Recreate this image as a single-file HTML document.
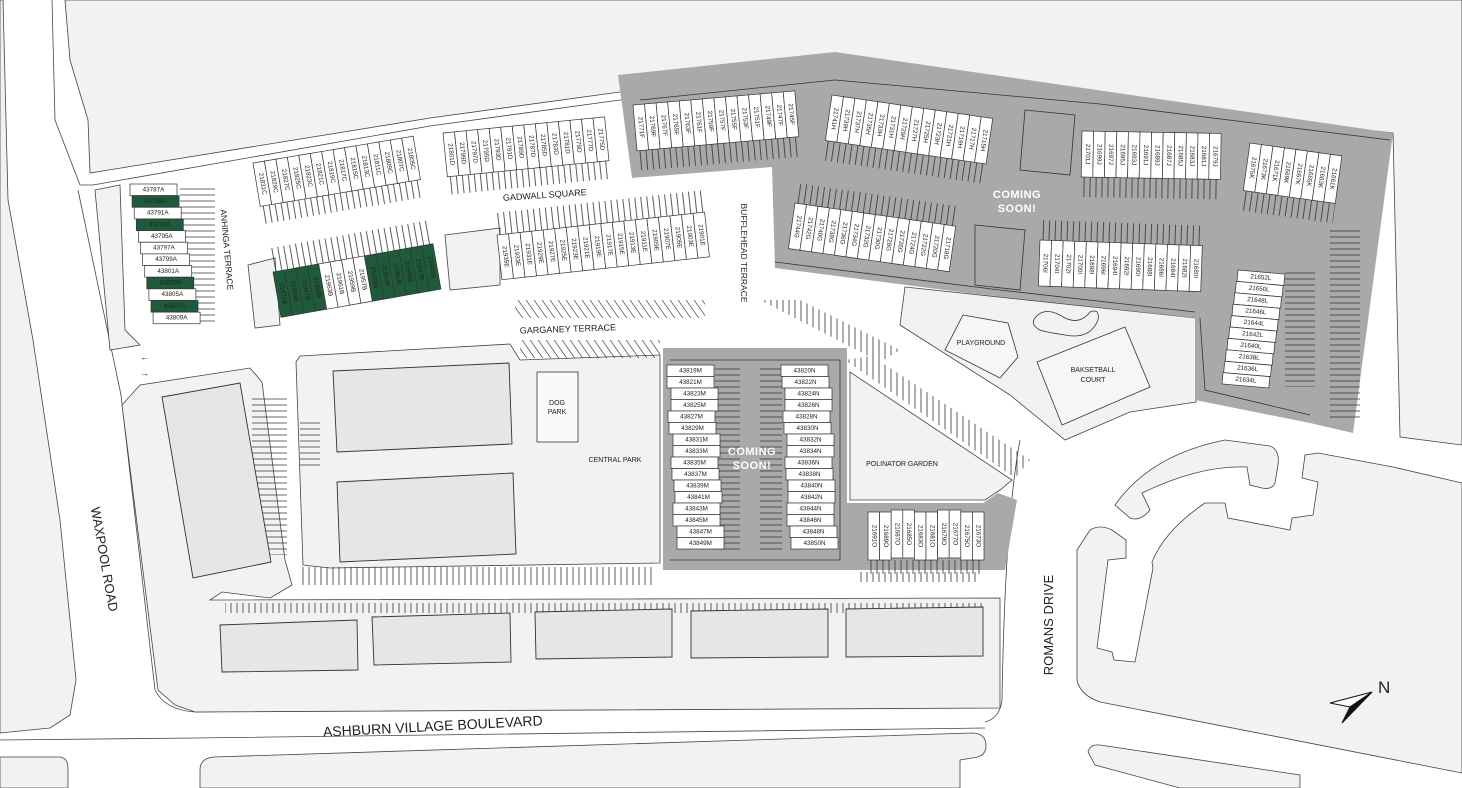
<!DOCTYPE html>
<html><head><meta charset="utf-8"><style>
html,body{margin:0;padding:0;background:#fff}
svg{display:block}
.u rect{fill:#fff;stroke:#333;stroke-width:.7}
.u rect.g{fill:#1f5b3b}
.u rect.st{fill:url(#vs);stroke:none}
.u text{font:6.3px "Liberation Sans",sans-serif;fill:#222;text-anchor:middle;dominant-baseline:central}
.isl{fill:#f2f2f2;stroke:#444;stroke-width:.8}
.bld{fill:#e6e6e6;stroke:#333;stroke-width:.9}
.ln{fill:none;stroke:#444;stroke-width:.8}
.lbl{font-family:"Liberation Sans",sans-serif;fill:#222}
.cs{font:bold 11px "Liberation Sans",sans-serif;fill:#fff;text-anchor:middle;letter-spacing:.5px}
</style></head><body>
<svg width="1462" height="788" viewBox="0 0 1462 788" xmlns="http://www.w3.org/2000/svg">
<defs>
<pattern id="vs" width="6" height="40" patternUnits="userSpaceOnUse"><line x1="3" y1="0" x2="3" y2="40" stroke="#333" stroke-width=".8"/></pattern>
<pattern id="hs" width="40" height="6" patternUnits="userSpaceOnUse"><line x1="0" y1="3" x2="40" y2="3" stroke="#333" stroke-width=".8"/></pattern>
<pattern id="ds" width="8" height="20" patternUnits="userSpaceOnUse" patternTransform="skewX(35)"><line x1="4" y1="0" x2="4" y2="20" stroke="#333" stroke-width=".8"/></pattern>
</defs>
<rect width="1462" height="788" fill="#fff"/>
<polygon points="65,0 1462,0 1462,445 1400,437 1393,133 1100,100 835,78 620,92 430,118 90,173 88,120 70,60" fill="#f2f2f2" stroke="#444" stroke-width=".8"/>
<polygon points="0,0 3,0 8,200 33,340 60,520 76,680 70,715 50,728 0,733" fill="#f2f2f2" stroke="#444" stroke-width=".8"/>
<path d="M0,757 L60,757 Q68,758 68,768 L68,788 L0,788 Z" fill="#f2f2f2" stroke="#444" stroke-width=".8"/>
<path d="M200,788 L200,770 Q200,758 214,757 L972,733 Q986,733 986,746 Q986,757 972,758 L960,760 L960,788 Z" fill="#f2f2f2" stroke="#444" stroke-width=".8"/>
<path d="M1077,550 L1090,530 Q1100,524 1112,530 L1126,540 L1126,558 L1108,560 L1097,648 L1112,652 L1114,660 L1135,662 L1153,568 L1152,562 Q1165,530 1205,503 L1225,503 L1228,518 L1290,530 L1292,518 L1313,515 L1318,482 L1302,478 L1305,455 L1318,453 L1393,467 L1462,483 L1462,773 L1100,702 Q1080,695 1077,680 Z" fill="#f2f2f2" stroke="#444" stroke-width=".8"/>
<path d="M1115,505 Q1150,455 1225,440 L1270,446 Q1280,450 1278,465 L1275,483 Q1272,490 1262,488 L1250,485 L1247,467 Q1200,465 1142,493 L1150,510 Q1140,522 1130,518 Z" fill="#f2f2f2" stroke="#444" stroke-width=".8"/>
<path d="M1088,752 Q1090,744 1100,745 L1300,775 L1300,788 L1180,788 L1095,765 Z" fill="#f2f2f2" stroke="#444" stroke-width=".8"/>
<path class="ln" d="M52,0 L55,120 L80,185 L93,185 L430,126 L620,100 L835,84 L1100,106 L1390,143"/>
<path class="ln" d="M78,190 L121,395 L155,690 Q165,710 195,712 L1000,700"/>
<path class="ln" d="M0,740 L195,738 L985,728"/>
<path class="ln" d="M1020,440 Q1005,520 1002,700 Q1000,718 985,722"/>
<polygon class="isl" points="122,405 140,385 250,368 262,382 285,560 292,585 270,598 222,592 210,600 1000,598 1000,708 195,712 175,705 158,690"/>
<polygon class="isl" points="296,362 300,356 510,344 520,360 660,355 660,563 330,568 303,565"/>
<polygon class="isl" points="850,372 1012,480 1000,490 985,500 850,500"/>
<polygon class="isl" points="905,287 1196,318 1196,402 1130,412 1065,440 1010,395 900,325"/>
<polygon class="isl" points="95,190 120,185 125,330 140,345 110,350"/>
<polygon class="isl" points="248,265 275,258 280,325 255,328"/>
<polygon class="isl" points="445,235 500,228 500,285 450,290"/>
<polygon points="618,75 835,52 1393,133 1353,433 1310,423 1195,400 1195,318 968,293 775,268 772,167 632,178" fill="#a9a9a9"/>
<polygon points="663,348 847,348 847,503 983,503 998,493 1017,500 1005,570 847,570 663,570" fill="#a9a9a9"/>
<g fill="none" stroke="#333" stroke-width=".8">
<path d="M640,100 L835,80 L1100,104 L1390,140"/>
<path d="M775,262 L1000,290 L1195,312"/>
<path d="M1200,318 L1205,390 L1310,415"/>
<path d="M975,225 L1025,230 L1020,290 L975,285 Z"/>
<path d="M1025,110 L1075,115 L1070,175 L1020,170 Z"/>
<path d="M670,360 L840,360 L840,560 L670,560"/>
</g>
<rect x="300" y="567" width="355" height="18" fill="url(#vs)"/>
<rect x="225" y="603" width="760" height="10" fill="url(#vs)"/>
<rect x="860" y="572" width="120" height="10" fill="url(#vs)"/>
<rect x="515" y="300" width="190" height="18" fill="url(#ds)"/>
<rect x="520" y="340" width="140" height="18" fill="url(#ds)"/>
<rect x="180" y="186" width="35" height="140" fill="url(#hs)"/>
<rect x="252" y="395" width="35" height="160" fill="url(#hs)"/>
<rect x="300" y="420" width="20" height="50" fill="url(#hs)"/>
<rect x="715" y="365" width="25" height="185" fill="url(#hs)"/>
<rect x="760" y="365" width="22" height="185" fill="url(#hs)"/>
<rect x="1285" y="272" width="30" height="115" fill="url(#hs)"/>
<rect x="1330" y="230" width="30" height="190" fill="url(#hs)"/>
<polygon points="845,360 872,356 1030,460 1015,478" fill="url(#vs)"/>
<polygon points="760,300 800,300 900,350 880,362" fill="url(#vs)"/>
<polygon class="bld" points="162,397 240,383 271,562 193,578"/>
<polygon class="bld" points="333,371 509,363 512,444 337,452"/>
<polygon class="bld" points="337,482 513,473 516,554 340,562"/>
<rect x="537" y="372" width="41" height="70" fill="#fafafa" stroke="#333" stroke-width=".8"/>
<polygon class="bld" points="220,625 357,620 358,670 222,672"/>
<polygon class="bld" points="372,617 510,613 511,662 374,665"/>
<polygon class="bld" points="535,612 672,609 672,657 536,659"/>
<polygon class="bld" points="691,611 828,609 828,657 691,658"/>
<polygon class="bld" points="846,609 983,607 983,656 846,657"/>
<polygon points="963,315 1008,323 1018,357 1000,378 945,350" fill="#f6f6f6" stroke="#333" stroke-width=".8"/>
<polygon points="1037,362 1125,327 1150,387 1062,425" fill="#f6f6f6" stroke="#333" stroke-width=".8"/>
<path d="M1035,318 Q1045,305 1065,318 Q1080,325 1090,312 Q1100,308 1098,320 Q1090,340 1065,335 Q1045,332 1040,330 Q1030,325 1035,318 Z" fill="none" stroke="#333" stroke-width=".8"/>

<g class="u" transform="translate(130,184)">
<rect x="0" y="0" width="47" height="11.6"/><text x="23.5" y="5.8">43787A</text>
<rect class="g" x="2.1" y="11.65" width="47" height="11.6"/><text x="25.6" y="17.45">43789A</text>
<rect x="4.2" y="23.3" width="47" height="11.6"/><text x="27.7" y="29.1">43791A</text>
<rect class="g" x="6.3" y="34.95" width="47" height="11.6"/><text x="29.8" y="40.75">43793A</text>
<rect x="8.4" y="46.6" width="47" height="11.6"/><text x="31.9" y="52.4">43795A</text>
<rect x="10.5" y="58.25" width="47" height="11.6"/><text x="34" y="64.05">43797A</text>
<rect x="12.6" y="69.9" width="47" height="11.6"/><text x="36.1" y="75.7">43799A</text>
<rect x="14.7" y="81.55" width="47" height="11.6"/><text x="38.2" y="87.35">43801A</text>
<rect class="g" x="16.8" y="93.2" width="47" height="11.6"/><text x="40.3" y="99">43803A</text>
<rect x="18.9" y="104.85" width="47" height="11.6"/><text x="42.4" y="110.65">43805A</text>
<rect class="g" x="21" y="116.5" width="47" height="11.6"/><text x="44.5" y="122.3">43807A</text>
<rect x="23.1" y="128.15" width="47" height="11.6"/><text x="46.6" y="133.95">43809A</text>
</g>

<g class="u" transform="translate(253,163) rotate(-9.5)">
<rect class="st" x="0" y="44" width="162" height="18"/>
<rect x="0" width="11.6" height="44"/><text transform="translate(5.8,22) rotate(90)">21831C</text>
<rect x="11.6" width="11.6" height="44"/><text transform="translate(17.4,22) rotate(90)">21829C</text>
<rect x="23.2" width="11.6" height="44"/><text transform="translate(29,22) rotate(90)">21827C</text>
<rect x="34.8" width="11.6" height="44"/><text transform="translate(40.6,22) rotate(90)">21825C</text>
<rect x="46.4" width="11.6" height="44"/><text transform="translate(52.2,22) rotate(90)">21823C</text>
<rect x="58" width="11.6" height="44"/><text transform="translate(63.8,22) rotate(90)">21821C</text>
<rect x="69.6" width="11.6" height="44"/><text transform="translate(75.4,22) rotate(90)">21819C</text>
<rect x="81.2" width="11.6" height="44"/><text transform="translate(87,22) rotate(90)">21817C</text>
<rect x="92.8" width="11.6" height="44"/><text transform="translate(98.6,22) rotate(90)">21815C</text>
<rect x="104.4" width="11.6" height="44"/><text transform="translate(110.2,22) rotate(90)">21813C</text>
<rect x="116" width="11.6" height="44"/><text transform="translate(121.8,22) rotate(90)">21811C</text>
<rect x="127.6" width="11.6" height="44"/><text transform="translate(133.4,22) rotate(90)">21809C</text>
<rect x="139.2" width="11.6" height="44"/><text transform="translate(145,22) rotate(90)">21807C</text>
<rect x="150.8" width="11.6" height="44"/><text transform="translate(156.6,22) rotate(90)">21805C</text>
</g>

<g class="u" transform="translate(443,133) rotate(-5.7)">
<rect class="st" x="0" y="44" width="162" height="18"/>
<rect x="0" width="11.6" height="44"/><text transform="translate(5.8,22) rotate(90)">21801D</text>
<rect x="11.6" width="11.6" height="44"/><text transform="translate(17.4,22) rotate(90)">21799D</text>
<rect x="23.2" width="11.6" height="44"/><text transform="translate(29,22) rotate(90)">21797D</text>
<rect x="34.8" width="11.6" height="44"/><text transform="translate(40.6,22) rotate(90)">21795D</text>
<rect x="46.4" width="11.6" height="44"/><text transform="translate(52.2,22) rotate(90)">21793D</text>
<rect x="58" width="11.6" height="44"/><text transform="translate(63.8,22) rotate(90)">21791D</text>
<rect x="69.6" width="11.6" height="44"/><text transform="translate(75.4,22) rotate(90)">21789D</text>
<rect x="81.2" width="11.6" height="44"/><text transform="translate(87,22) rotate(90)">21787D</text>
<rect x="92.8" width="11.6" height="44"/><text transform="translate(98.6,22) rotate(90)">21785D</text>
<rect x="104.4" width="11.6" height="44"/><text transform="translate(110.2,22) rotate(90)">21783D</text>
<rect x="116" width="11.6" height="44"/><text transform="translate(121.8,22) rotate(90)">21781D</text>
<rect x="127.6" width="11.6" height="44"/><text transform="translate(133.4,22) rotate(90)">21779D</text>
<rect x="139.2" width="11.6" height="44"/><text transform="translate(145,22) rotate(90)">21777D</text>
<rect x="150.8" width="11.6" height="44"/><text transform="translate(156.6,22) rotate(90)">21775D</text>
</g>

<g class="u" transform="translate(633,105) rotate(-5)">
<rect class="st" x="0" y="46" width="162" height="20"/>
<rect x="0" width="11.6" height="46"/><text transform="translate(5.8,23) rotate(90)">21771F</text>
<rect x="11.6" width="11.6" height="46"/><text transform="translate(17.4,23) rotate(90)">21769F</text>
<rect x="23.2" width="11.6" height="46"/><text transform="translate(29,23) rotate(90)">21767F</text>
<rect x="34.8" width="11.6" height="46"/><text transform="translate(40.6,23) rotate(90)">21765F</text>
<rect x="46.4" width="11.6" height="46"/><text transform="translate(52.2,23) rotate(90)">21763F</text>
<rect x="58" width="11.6" height="46"/><text transform="translate(63.8,23) rotate(90)">21761F</text>
<rect x="69.6" width="11.6" height="46"/><text transform="translate(75.4,23) rotate(90)">21759F</text>
<rect x="81.2" width="11.6" height="46"/><text transform="translate(87,23) rotate(90)">21757F</text>
<rect x="92.8" width="11.6" height="46"/><text transform="translate(98.6,23) rotate(90)">21755F</text>
<rect x="104.4" width="11.6" height="46"/><text transform="translate(110.2,23) rotate(90)">21753F</text>
<rect x="116" width="11.6" height="46"/><text transform="translate(121.8,23) rotate(90)">21751F</text>
<rect x="127.6" width="11.6" height="46"/><text transform="translate(133.4,23) rotate(90)">21749F</text>
<rect x="139.2" width="11.6" height="46"/><text transform="translate(145,23) rotate(90)">21747F</text>
<rect x="150.8" width="11.6" height="46"/><text transform="translate(156.6,23) rotate(90)">21745F</text>
</g>

<g class="u" transform="translate(832,95) rotate(8.3)">
<rect class="st" x="0" y="46" width="162" height="20"/>
<rect x="0" width="11.6" height="46"/><text transform="translate(5.8,23) rotate(90)">21741H</text>
<rect x="11.6" width="11.6" height="46"/><text transform="translate(17.4,23) rotate(90)">21739H</text>
<rect x="23.2" width="11.6" height="46"/><text transform="translate(29,23) rotate(90)">21737H</text>
<rect x="34.8" width="11.6" height="46"/><text transform="translate(40.6,23) rotate(90)">21735H</text>
<rect x="46.4" width="11.6" height="46"/><text transform="translate(52.2,23) rotate(90)">21733H</text>
<rect x="58" width="11.6" height="46"/><text transform="translate(63.8,23) rotate(90)">21731H</text>
<rect x="69.6" width="11.6" height="46"/><text transform="translate(75.4,23) rotate(90)">21729H</text>
<rect x="81.2" width="11.6" height="46"/><text transform="translate(87,23) rotate(90)">21727H</text>
<rect x="92.8" width="11.6" height="46"/><text transform="translate(98.6,23) rotate(90)">21725H</text>
<rect x="104.4" width="11.6" height="46"/><text transform="translate(110.2,23) rotate(90)">21723H</text>
<rect x="116" width="11.6" height="46"/><text transform="translate(121.8,23) rotate(90)">21721H</text>
<rect x="127.6" width="11.6" height="46"/><text transform="translate(133.4,23) rotate(90)">21719H</text>
<rect x="139.2" width="11.6" height="46"/><text transform="translate(145,23) rotate(90)">21717H</text>
<rect x="150.8" width="11.6" height="46"/><text transform="translate(156.6,23) rotate(90)">21715H</text>
</g>

<g class="u" transform="translate(1082,131) rotate(1)">
<rect class="st" x="0" y="46" width="139" height="20"/>
<rect x="0" width="11.6" height="46"/><text transform="translate(5.8,23) rotate(90)">21701J</text>
<rect x="11.6" width="11.6" height="46"/><text transform="translate(17.4,23) rotate(90)">21699J</text>
<rect x="23.2" width="11.6" height="46"/><text transform="translate(29,23) rotate(90)">21697J</text>
<rect x="34.8" width="11.6" height="46"/><text transform="translate(40.6,23) rotate(90)">21695J</text>
<rect x="46.4" width="11.6" height="46"/><text transform="translate(52.2,23) rotate(90)">21693J</text>
<rect x="58" width="11.6" height="46"/><text transform="translate(63.8,23) rotate(90)">21691J</text>
<rect x="69.6" width="11.6" height="46"/><text transform="translate(75.4,23) rotate(90)">21689J</text>
<rect x="81.2" width="11.6" height="46"/><text transform="translate(87,23) rotate(90)">21687J</text>
<rect x="92.8" width="11.6" height="46"/><text transform="translate(98.6,23) rotate(90)">21685J</text>
<rect x="104.4" width="11.6" height="46"/><text transform="translate(110.2,23) rotate(90)">21683J</text>
<rect x="116" width="11.6" height="46"/><text transform="translate(121.8,23) rotate(90)">21681J</text>
<rect x="127.6" width="11.6" height="46"/><text transform="translate(133.4,23) rotate(90)">21679J</text>
</g>

<g class="u" transform="translate(1250,143) rotate(8)">
<rect class="st" x="0" y="48" width="93" height="20"/>
<rect x="0" width="11.6" height="48"/><text transform="translate(5.8,24) rotate(90)">21675K</text>
<rect x="11.6" width="11.6" height="48"/><text transform="translate(17.4,24) rotate(90)">21673K</text>
<rect x="23.2" width="11.6" height="48"/><text transform="translate(29,24) rotate(90)">21671K</text>
<rect x="34.8" width="11.6" height="48"/><text transform="translate(40.6,24) rotate(90)">21669K</text>
<rect x="46.4" width="11.6" height="48"/><text transform="translate(52.2,24) rotate(90)">21667K</text>
<rect x="58" width="11.6" height="48"/><text transform="translate(63.8,24) rotate(90)">21665K</text>
<rect x="69.6" width="11.6" height="48"/><text transform="translate(75.4,24) rotate(90)">21663K</text>
<rect x="81.2" width="11.6" height="48"/><text transform="translate(87,24) rotate(90)">21661K</text>
</g>

<g class="u" transform="translate(795,203) rotate(8.2)">
<rect class="st" x="0" y="-20" width="162" height="20"/>
<rect x="0" width="11.6" height="46"/><text transform="translate(5.8,23) rotate(90)">21744G</text>
<rect x="11.6" width="11.6" height="46"/><text transform="translate(17.4,23) rotate(90)">21742G</text>
<rect x="23.2" width="11.6" height="46"/><text transform="translate(29,23) rotate(90)">21740G</text>
<rect x="34.8" width="11.6" height="46"/><text transform="translate(40.6,23) rotate(90)">21738G</text>
<rect x="46.4" width="11.6" height="46"/><text transform="translate(52.2,23) rotate(90)">21736G</text>
<rect x="58" width="11.6" height="46"/><text transform="translate(63.8,23) rotate(90)">21734G</text>
<rect x="69.6" width="11.6" height="46"/><text transform="translate(75.4,23) rotate(90)">21732G</text>
<rect x="81.2" width="11.6" height="46"/><text transform="translate(87,23) rotate(90)">21730G</text>
<rect x="92.8" width="11.6" height="46"/><text transform="translate(98.6,23) rotate(90)">21728G</text>
<rect x="104.4" width="11.6" height="46"/><text transform="translate(110.2,23) rotate(90)">21726G</text>
<rect x="116" width="11.6" height="46"/><text transform="translate(121.8,23) rotate(90)">21724G</text>
<rect x="127.6" width="11.6" height="46"/><text transform="translate(133.4,23) rotate(90)">21722G</text>
<rect x="139.2" width="11.6" height="46"/><text transform="translate(145,23) rotate(90)">21720G</text>
<rect x="150.8" width="11.6" height="46"/><text transform="translate(156.6,23) rotate(90)">21718G</text>
</g>

<g class="u" transform="translate(1040,240) rotate(2)">
<rect class="st" x="0" y="-20" width="162" height="20"/>
<rect x="0" width="11.6" height="46"/><text transform="translate(5.8,23) rotate(90)">21706I</text>
<rect x="11.6" width="11.6" height="46"/><text transform="translate(17.4,23) rotate(90)">21704I</text>
<rect x="23.2" width="11.6" height="46"/><text transform="translate(29,23) rotate(90)">21702I</text>
<rect x="34.8" width="11.6" height="46"/><text transform="translate(40.6,23) rotate(90)">21700I</text>
<rect x="46.4" width="11.6" height="46"/><text transform="translate(52.2,23) rotate(90)">21698I</text>
<rect x="58" width="11.6" height="46"/><text transform="translate(63.8,23) rotate(90)">21696I</text>
<rect x="69.6" width="11.6" height="46"/><text transform="translate(75.4,23) rotate(90)">21694I</text>
<rect x="81.2" width="11.6" height="46"/><text transform="translate(87,23) rotate(90)">21692I</text>
<rect x="92.8" width="11.6" height="46"/><text transform="translate(98.6,23) rotate(90)">21690I</text>
<rect x="104.4" width="11.6" height="46"/><text transform="translate(110.2,23) rotate(90)">21688I</text>
<rect x="116" width="11.6" height="46"/><text transform="translate(121.8,23) rotate(90)">21686I</text>
<rect x="127.6" width="11.6" height="46"/><text transform="translate(133.4,23) rotate(90)">21684I</text>
<rect x="139.2" width="11.6" height="46"/><text transform="translate(145,23) rotate(90)">21682I</text>
<rect x="150.8" width="11.6" height="46"/><text transform="translate(156.6,23) rotate(90)">21680I</text>
</g>

<g class="u" transform="translate(497,235) rotate(-6.3)">
<rect class="st" x="0" y="-22" width="209" height="22"/>
<rect x="0" width="11.6" height="45"/><text transform="translate(5.8,22.5) rotate(90)">21935E</text>
<rect x="11.6" width="11.6" height="45"/><text transform="translate(17.4,22.5) rotate(90)">21933E</text>
<rect x="23.2" width="11.6" height="45"/><text transform="translate(29,22.5) rotate(90)">21931E</text>
<rect x="34.8" width="11.6" height="45"/><text transform="translate(40.6,22.5) rotate(90)">21929E</text>
<rect x="46.4" width="11.6" height="45"/><text transform="translate(52.2,22.5) rotate(90)">21927E</text>
<rect x="58" width="11.6" height="45"/><text transform="translate(63.8,22.5) rotate(90)">21925E</text>
<rect x="69.6" width="11.6" height="45"/><text transform="translate(75.4,22.5) rotate(90)">21923E</text>
<rect x="81.2" width="11.6" height="45"/><text transform="translate(87,22.5) rotate(90)">21921E</text>
<rect x="92.8" width="11.6" height="45"/><text transform="translate(98.6,22.5) rotate(90)">21919E</text>
<rect x="104.4" width="11.6" height="45"/><text transform="translate(110.2,22.5) rotate(90)">21917E</text>
<rect x="116" width="11.6" height="45"/><text transform="translate(121.8,22.5) rotate(90)">21915E</text>
<rect x="127.6" width="11.6" height="45"/><text transform="translate(133.4,22.5) rotate(90)">21913E</text>
<rect x="139.2" width="11.6" height="45"/><text transform="translate(145,22.5) rotate(90)">21911E</text>
<rect x="150.8" width="11.6" height="45"/><text transform="translate(156.6,22.5) rotate(90)">21909E</text>
<rect x="162.4" width="11.6" height="45"/><text transform="translate(168.2,22.5) rotate(90)">21907E</text>
<rect x="174" width="11.6" height="45"/><text transform="translate(179.8,22.5) rotate(90)">21905E</text>
<rect x="185.6" width="11.6" height="45"/><text transform="translate(191.4,22.5) rotate(90)">21903E</text>
<rect x="197.2" width="11.6" height="45"/><text transform="translate(203,22.5) rotate(90)">21901E</text>
</g>

<g class="u" transform="translate(273,272) rotate(-10)">
<rect class="st" x="0" y="-24" width="162" height="24"/>
<rect class="g" x="0" width="11.6" height="46"/><text transform="translate(5.8,23) rotate(90)">21971B</text>
<rect class="g" x="11.6" width="11.6" height="46"/><text transform="translate(17.4,23) rotate(90)">21969B</text>
<rect class="g" x="23.2" width="11.6" height="46"/><text transform="translate(29,23) rotate(90)">21967B</text>
<rect class="g" x="34.8" width="11.6" height="46"/><text transform="translate(40.6,23) rotate(90)">21965B</text>
<rect x="46.4" width="11.6" height="46"/><text transform="translate(52.2,23) rotate(90)">21963B</text>
<rect x="58" width="11.6" height="46"/><text transform="translate(63.8,23) rotate(90)">21961B</text>
<rect x="69.6" width="11.6" height="46"/><text transform="translate(75.4,23) rotate(90)">21959B</text>
<rect x="81.2" width="11.6" height="46"/><text transform="translate(87,23) rotate(90)">21957B</text>
<rect class="g" x="92.8" width="11.6" height="46"/><text transform="translate(98.6,23) rotate(90)">21955B</text>
<rect class="g" x="104.4" width="11.6" height="46"/><text transform="translate(110.2,23) rotate(90)">21953B</text>
<rect class="g" x="116" width="11.6" height="46"/><text transform="translate(121.8,23) rotate(90)">21951B</text>
<rect class="g" x="127.6" width="11.6" height="46"/><text transform="translate(133.4,23) rotate(90)">21949B</text>
<rect class="g" x="139.2" width="11.6" height="46"/><text transform="translate(145,23) rotate(90)">21947B</text>
<rect class="g" x="150.8" width="11.6" height="46"/><text transform="translate(156.6,23) rotate(90)">21945B</text>
</g>

<g class="u" transform="translate(868,512)">
<rect class="st" x="0" y="48" width="116" height="14"/>
<rect x="0" width="11.6" height="48"/><text transform="translate(5.8,24) rotate(90)">21691O</text>
<rect x="11.6" width="11.6" height="48"/><text transform="translate(17.4,24) rotate(90)">21689O</text>
<rect x="23.2" y="-2" width="11.6" height="48"/><text transform="translate(29,22) rotate(90)">21687O</text>
<rect x="34.8" y="-2" width="11.6" height="48"/><text transform="translate(40.6,22) rotate(90)">21685O</text>
<rect x="46.4" width="11.6" height="48"/><text transform="translate(52.2,24) rotate(90)">21683O</text>
<rect x="58" width="11.6" height="48"/><text transform="translate(63.8,24) rotate(90)">21681O</text>
<rect x="69.6" y="-2" width="11.6" height="48"/><text transform="translate(75.4,22) rotate(90)">21679O</text>
<rect x="81.2" y="-2" width="11.6" height="48"/><text transform="translate(87,22) rotate(90)">21677O</text>
<rect x="92.8" width="11.6" height="48"/><text transform="translate(98.6,24) rotate(90)">21675O</text>
<rect x="104.4" width="11.6" height="48"/><text transform="translate(110.2,24) rotate(90)">21673O</text>
</g>

<g class="u">
<g transform="translate(1238,270) rotate(5)"><rect width="47" height="11.4"/><text x="23.5" y="5.7">21652L</text></g>
<g transform="translate(1236.3,281.4) rotate(5)"><rect width="47" height="11.4"/><text x="23.5" y="5.7">21650L</text></g>
<g transform="translate(1234.7,292.8) rotate(5)"><rect width="47" height="11.4"/><text x="23.5" y="5.7">21648L</text></g>
<g transform="translate(1233,304.2) rotate(5)"><rect width="47" height="11.4"/><text x="23.5" y="5.7">21646L</text></g>
<g transform="translate(1231.3,315.6) rotate(5)"><rect width="47" height="11.4"/><text x="23.5" y="5.7">21644L</text></g>
<g transform="translate(1229.7,327) rotate(5)"><rect width="47" height="11.4"/><text x="23.5" y="5.7">21642L</text></g>
<g transform="translate(1228,338.4) rotate(5)"><rect width="47" height="11.4"/><text x="23.5" y="5.7">21640L</text></g>
<g transform="translate(1226.3,349.8) rotate(5)"><rect width="47" height="11.4"/><text x="23.5" y="5.7">21638L</text></g>
<g transform="translate(1224.7,361.2) rotate(5)"><rect width="47" height="11.4"/><text x="23.5" y="5.7">21636L</text></g>
<g transform="translate(1223,372.6) rotate(5)"><rect width="47" height="11.4"/><text x="23.5" y="5.7">21634L</text></g>
</g>

<g class="u">
<rect x="667" y="365" width="47" height="11.5"/><text x="690.5" y="370.8">43819M</text>
<rect x="667" y="376.5" width="47" height="11.5"/><text x="690.5" y="382.3">43821M</text>
<rect x="671" y="388" width="47" height="11.5"/><text x="694.5" y="393.8">43823M</text>
<rect x="671" y="399.5" width="47" height="11.5"/><text x="694.5" y="405.3">43825M</text>
<rect x="668" y="411" width="47" height="11.5"/><text x="691.5" y="416.8">43827M</text>
<rect x="669" y="422.5" width="47" height="11.5"/><text x="692.5" y="428.3">43829M</text>
<rect x="673" y="434" width="47" height="11.5"/><text x="696.5" y="439.8">43831M</text>
<rect x="673" y="445.5" width="47" height="11.5"/><text x="696.5" y="451.3">43833M</text>
<rect x="671" y="457" width="47" height="11.5"/><text x="694.5" y="462.8">43835M</text>
<rect x="672" y="468.5" width="47" height="11.5"/><text x="695.5" y="474.3">43837M</text>
<rect x="674" y="480" width="47" height="11.5"/><text x="697.5" y="485.8">43839M</text>
<rect x="675" y="491.5" width="47" height="11.5"/><text x="698.5" y="497.3">43841M</text>
<rect x="673" y="503" width="47" height="11.5"/><text x="696.5" y="508.8">43843M</text>
<rect x="673" y="514.5" width="47" height="11.5"/><text x="696.5" y="520.3">43845M</text>
<rect x="677" y="526" width="47" height="11.5"/><text x="700.5" y="531.8">43847M</text>
<rect x="677" y="537.5" width="47" height="11.5"/><text x="700.5" y="543.3">43849M</text>
</g>
<g class="u">
<rect x="781" y="365" width="47" height="11.5"/><text x="804.5" y="370.8">43820N</text>
<rect x="782" y="376.5" width="47" height="11.5"/><text x="805.5" y="382.3">43822N</text>
<rect x="785" y="388" width="47" height="11.5"/><text x="808.5" y="393.8">43824N</text>
<rect x="785" y="399.5" width="47" height="11.5"/><text x="808.5" y="405.3">43826N</text>
<rect x="783" y="411" width="47" height="11.5"/><text x="806.5" y="416.8">43828N</text>
<rect x="784" y="422.5" width="47" height="11.5"/><text x="807.5" y="428.3">43830N</text>
<rect x="787" y="434" width="47" height="11.5"/><text x="810.5" y="439.8">43832N</text>
<rect x="787" y="445.5" width="47" height="11.5"/><text x="810.5" y="451.3">43834N</text>
<rect x="785" y="457" width="47" height="11.5"/><text x="808.5" y="462.8">43836N</text>
<rect x="786" y="468.5" width="47" height="11.5"/><text x="809.5" y="474.3">43838N</text>
<rect x="788" y="480" width="47" height="11.5"/><text x="811.5" y="485.8">43840N</text>
<rect x="788" y="491.5" width="47" height="11.5"/><text x="811.5" y="497.3">43842N</text>
<rect x="787" y="503" width="47" height="11.5"/><text x="810.5" y="508.8">43844N</text>
<rect x="787" y="514.5" width="47" height="11.5"/><text x="810.5" y="520.3">43846N</text>
<rect x="790" y="526" width="47" height="11.5"/><text x="813.5" y="531.8">43848N</text>
<rect x="791" y="537.5" width="47" height="11.5"/><text x="814.5" y="543.3">43850N</text>
</g>

<text class="cs" x="1017" y="198">COMING</text>
<text class="cs" x="1017" y="212">SOON!</text>
<text class="cs" x="752" y="455">COMING</text>
<text class="cs" x="752" y="469">SOON!</text>

<text class="lbl" font-size="9" text-anchor="middle" transform="translate(545,198) rotate(-4)">GADWALL SQUARE</text>
<text class="lbl" font-size="9" text-anchor="middle" transform="translate(568,332) rotate(-2)">GARGANEY TERRACE</text>
<text class="lbl" font-size="8.5" text-anchor="middle" transform="translate(224,250) rotate(85)">ANHINGA TERRACE</text>
<text class="lbl" font-size="8.5" text-anchor="middle" transform="translate(741,253) rotate(90)">BUFFLEHEAD TERRACE</text>
<text class="lbl" font-size="13" text-anchor="middle" transform="translate(100,560) rotate(80)">WAXPOOL ROAD</text>
<text class="lbl" font-size="14" text-anchor="middle" transform="translate(433,731) rotate(-3)">ASHBURN VILLAGE BOULEVARD</text>
<text class="lbl" font-size="13" text-anchor="middle" transform="translate(1053,625) rotate(-90)">ROMANS DRIVE</text>
<text class="lbl" font-size="7" text-anchor="middle" x="557" y="405">DOG</text>
<text class="lbl" font-size="7" text-anchor="middle" x="557" y="414">PARK</text>
<text class="lbl" font-size="7" text-anchor="middle" x="615" y="462">CENTRAL PARK</text>
<text class="lbl" font-size="7" text-anchor="middle" x="902" y="466">POLINATOR GARDEN</text>
<text class="lbl" font-size="7" text-anchor="middle" x="981" y="345">PLAYGROUND</text>
<text class="lbl" font-size="7" text-anchor="middle" x="1093" y="372">BAKSETBALL</text>
<text class="lbl" font-size="7" text-anchor="middle" x="1093" y="382">COURT</text>
<text class="lbl" font-size="9" x="140" y="360">&#8592;</text>
<text class="lbl" font-size="9" x="140" y="376">&#8594;</text>
<polygon points="1330,703 1372,692 1350,707" fill="#fff" stroke="#111" stroke-width="1"/>
<polygon points="1372,692 1342,723 1350,707" fill="#111" stroke="#111" stroke-width="1"/>
<text class="lbl" font-size="17" x="1378" y="693">N</text>
</svg>
</body></html>
